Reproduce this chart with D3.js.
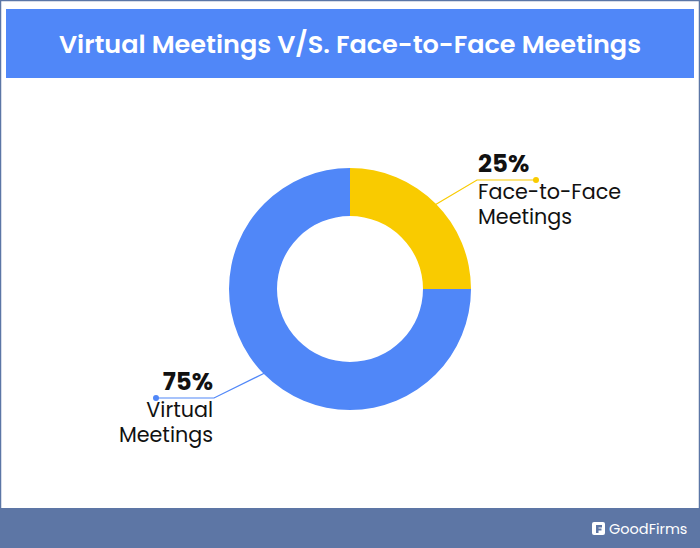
<!DOCTYPE html>
<html><head><meta charset="utf-8">
<script src="https://cdn.jsdelivr.net/npm/d3@7"></script>
<style>html,body{margin:0;padding:0;background:#fff;}svg{display:block;}</style>
</head><body>
<svg id="c" width="700" height="548"></svg>
<script>
const title = "Virtual Meetings V/S. Face-to-Face Meetings";
const categories = ["Face-to-Face Meetings", "Virtual Meetings"];
const labelLines = [["Face-to-Face", "Meetings"], ["Virtual", "Meetings"]];
const values = [25, 75];
const colors = ["#f9cb00", "#5087f8"];

const svg = d3.select("#c");
const W = 700, H = 548;
const font = "Poppins, 'Open Sans', Lato, sans-serif";

// frame
svg.append("rect").attr("x", 0.5).attr("y", 0.5).attr("width", W - 1).attr("height", H - 1)
  .attr("fill", "#fff").attr("stroke", "#5b76a6").attr("stroke-width", 1.5);
// title bar
svg.append("rect").attr("x", 6).attr("y", 9).attr("width", 688).attr("height", 69).attr("fill", "#5087f8");
svg.append("text").attr("x", 350).attr("y", 44).attr("text-anchor", "middle").attr("dominant-baseline", "central")
  .attr("fill", "#fff").attr("font-family", font).attr("font-weight", 600).attr("font-size", 25.5).text(title);
// footer
svg.append("rect").attr("x", 0).attr("y", 508).attr("width", W).attr("height", 40).attr("fill", "#5d76a5");
const logo = svg.append("g").attr("transform", "translate(592,522)");
logo.append("rect").attr("width", 13).attr("height", 13).attr("rx", 2).attr("fill", "#fff");
logo.append("path").attr("d", "M4,3 H10 V5.5 H6.5 V6.5 H9.5 V8.5 H6.5 V11 H4 Z").attr("fill", "#5d76a5");
svg.append("text").attr("x", 609).attr("y", 529).attr("dominant-baseline", "central").attr("fill", "#fff")
  .attr("font-family", font).attr("font-size", 14.5).text("GoodFirms");

// donut
const cx = 350, cy = 289, R = 121, r = 73;
const g = svg.append("g").attr("transform", `translate(${cx},${cy})`);
const pie = d3.pie().sort(null).value(d => d)(values);
const arc = d3.arc().innerRadius(r).outerRadius(R);
g.selectAll("path.slice").data(pie).join("path").attr("class", "slice")
  .attr("d", arc).attr("fill", (d, i) => colors[i]);

// labels
const lab = [
  {elbow: [477, 180], end: [536, 180], pctY: 172, textX: 478, anchor: "start"},
  {elbow: [214, 398], end: [156, 398], pctY: 390, textX: 213, anchor: "end"}
];
pie.forEach((d, i) => {
  const mid = (d.startAngle + d.endAngle) / 2;
  const rr = R - 4;
  const sx = cx + Math.sin(mid) * rr, sy = cy - Math.cos(mid) * rr;
  const L = lab[i];
  svg.append("polyline").attr("points", [[sx, sy], L.elbow, L.end].map(p => p.join(",")).join(" "))
    .attr("fill", "none").attr("stroke", colors[i]).attr("stroke-width", 1.2);
  svg.append("circle").attr("cx", L.end[0]).attr("cy", L.end[1]).attr("r", 3).attr("fill", colors[i]);
  const t = svg.append("text").attr("text-anchor", L.anchor).attr("font-family", font).attr("fill", "#111");
  t.append("tspan").attr("x", L.textX).attr("y", L.pctY)
    .attr("font-weight", 700).attr("font-size", 24.5).text(values[i] + "%");
  labelLines[i].forEach((s, j) => {
    t.append("tspan").attr("x", L.textX).attr("y", L.pctY + 27 + j * 25)
      .attr("font-size", 20.7).text(s);
  });
});
</script>
</body></html>
